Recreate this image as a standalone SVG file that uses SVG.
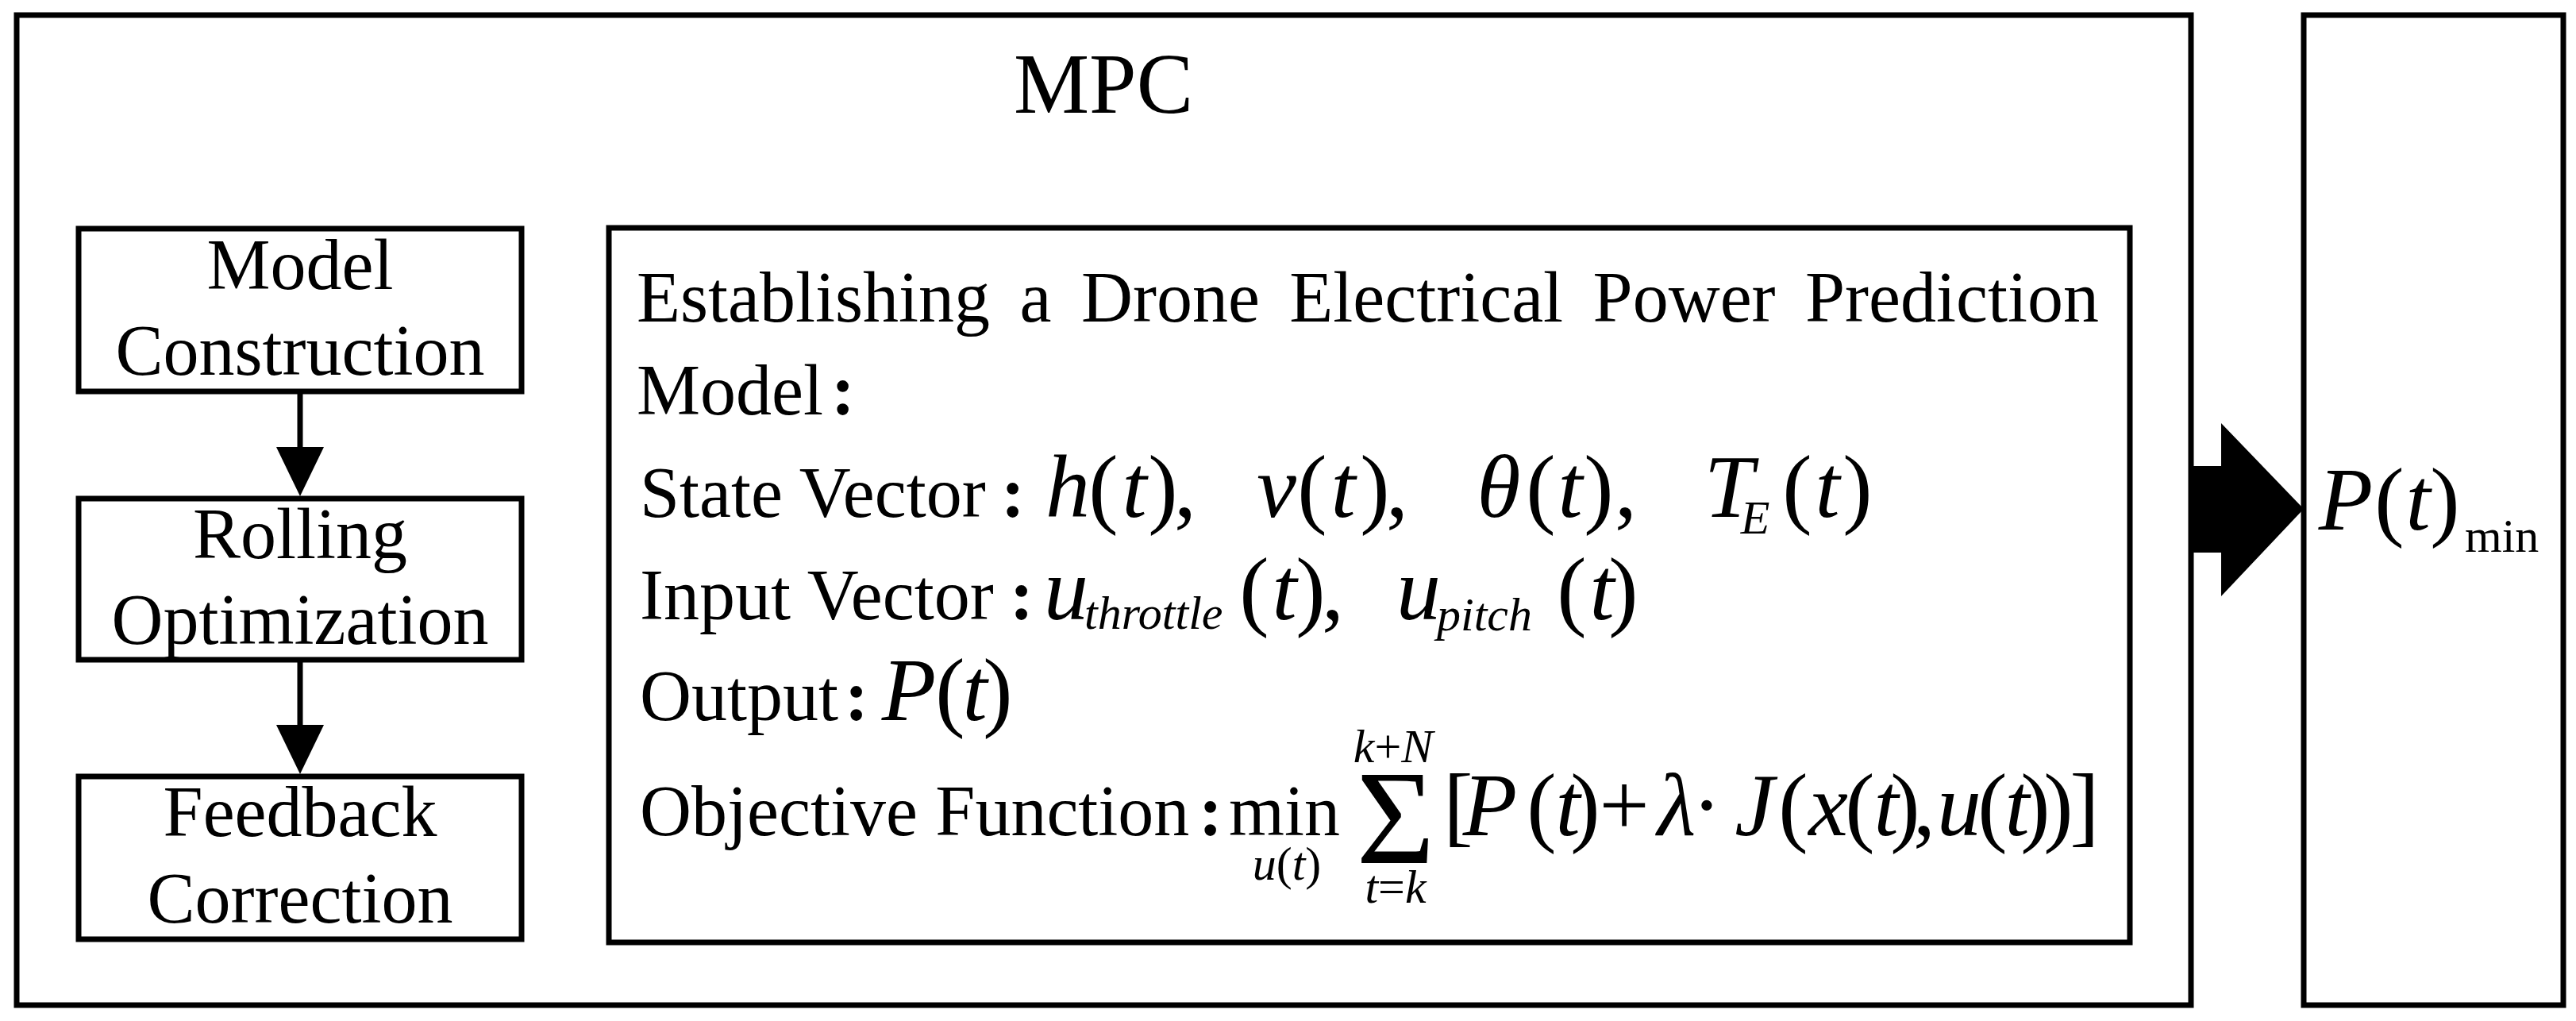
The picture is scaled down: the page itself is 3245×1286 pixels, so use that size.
<svg xmlns="http://www.w3.org/2000/svg" width="3245" height="1286" viewBox="0 0 3245 1286">
<style>
.box{fill:none;stroke:#000;stroke-width:7}
.t{font-family:"Liberation Serif","Noto Sans CJK SC",serif;font-size:90px;fill:#000}
.c{text-anchor:middle}
.k{font-family:"Liberation Serif",serif;font-size:90px;font-weight:bold;text-anchor:middle;fill:#000}
.m{font-family:"Liberation Serif",serif;font-size:112px;font-style:italic;text-anchor:middle;fill:#000}
.r{font-style:normal}
.s{font-family:"Liberation Serif",serif;font-size:60px;font-style:italic;fill:#000}
.ln{stroke:#000;stroke-width:7;fill:none}
</style>
<rect width="3245" height="1286" fill="#fff"/>
<g id="mpc">
<rect class="box" x="21" y="19" width="2739" height="1247"/>
<text class="t c" x="1390" y="142" style="font-size:107px">MPC</text>
</g>
<g id="model-construction">
<rect class="box" x="99" y="288" width="558" height="205"/>
<text class="t c" x="378" y="364">Model</text>
<text class="t c" x="378" y="472">Construction</text>
</g>
<g id="rolling-optimization">
<rect class="box" x="99" y="628" width="558" height="203"/>
<text class="t c" x="378" y="703">Rolling</text>
<text class="t c" x="378" y="811">Optimization</text>
</g>
<g id="feedback-correction">
<rect class="box" x="99" y="978" width="558" height="205"/>
<text class="t c" x="378" y="1053">Feedback</text>
<text class="t c" x="378" y="1162">Correction</text>
</g>
<g id="prediction-model">
<rect class="box" x="767" y="287" width="1916" height="900"/>
<text class="t" x="802" y="405" style="word-spacing:15px">Establishing a Drone Electrical Power Prediction</text>
<text class="t" x="802" y="522">Model</text>
<text class="k" x="1062" y="522">:</text>
<text class="t" x="806" y="651">State Vector</text>
<text class="k" x="1276" y="651">:</text>
<text class="m" y="651"><tspan x="1345">h</tspan><tspan class="r" x="1390">(</tspan><tspan x="1429">t</tspan><tspan class="r" x="1465">)</tspan><tspan class="r" x="1493">,</tspan><tspan x="1608">v</tspan><tspan class="r" x="1653">(</tspan><tspan x="1692">t</tspan><tspan class="r" x="1732">)</tspan><tspan class="r" x="1760">,</tspan><tspan x="1888">θ</tspan><tspan class="r" x="1941">(</tspan><tspan x="1978">t</tspan><tspan class="r" x="2014">)</tspan><tspan class="r" x="2048">,</tspan><tspan x="2178">T</tspan><tspan class="r" x="2264">(</tspan><tspan x="2302">t</tspan><tspan class="r" x="2340">)</tspan></text>
<text class="s" x="2211" y="672" text-anchor="middle">E</text>
<text class="t" x="806" y="780">Input Vector</text>
<text class="k" x="1287" y="780">:</text>
<text class="m" y="780"><tspan x="1343">u</tspan><tspan class="r" x="1580">(</tspan><tspan x="1618">t</tspan><tspan class="r" x="1651">)</tspan><tspan class="r" x="1679">,</tspan><tspan x="1787">u</tspan><tspan class="r" x="1980">(</tspan><tspan x="2018">t</tspan><tspan class="r" x="2045">)</tspan></text>
<text class="s" x="1366" y="792">throttle</text>
<text class="s" x="1810" y="794">pitch</text>
<text class="t" x="806" y="907">Output</text>
<text class="k" x="1079" y="907">:</text>
<text class="m" y="907"><tspan x="1145">P</tspan><tspan class="r" x="1197">(</tspan><tspan x="1228">t</tspan><tspan class="r" x="1257">)</tspan></text>
<text class="t" x="806" y="1052">Objective Function</text>
<text class="k" x="1525" y="1052">:</text>
<text class="t" x="1548" y="1052">min</text>
<text class="s" x="1621" y="1108" text-anchor="middle">u<tspan class="r">(</tspan>t<tspan class="r">)</tspan></text>
<text class="t c" x="1758" y="1087" style="font-size:170px">Σ</text>
<text class="s" x="1755" y="960" text-anchor="middle">k<tspan class="r">+</tspan>N</text>
<text class="s" x="1758" y="1137" text-anchor="middle">t<tspan class="r">=</tspan>k</text>
<text class="m" y="1052"><tspan class="r" x="1837">[</tspan><tspan x="1877">P</tspan><tspan class="r" x="1942">(</tspan><tspan x="1975">t</tspan><tspan class="r" x="1997">)</tspan><tspan class="r" x="2046">+</tspan><tspan x="2112">λ</tspan><tspan class="r" x="2150">·</tspan><tspan x="2210">J</tspan><tspan class="r" x="2259">(</tspan><tspan x="2303">x</tspan><tspan class="r" x="2343">(</tspan><tspan x="2376">t</tspan><tspan class="r" x="2400">)</tspan><tspan class="r" x="2424">,</tspan><tspan x="2468">u</tspan><tspan class="r" x="2510">(</tspan><tspan x="2541">t</tspan><tspan class="r" x="2564">)</tspan><tspan class="r" x="2593">)</tspan><tspan class="r" x="2626">]</tspan></text>
</g>
<g id="result">
<rect class="box" x="2902" y="19" width="327" height="1247"/>
<text class="m" y="667"><tspan x="2955">P</tspan><tspan class="r" x="3010">(</tspan><tspan x="3046">t</tspan><tspan class="r" x="3080">)</tspan></text>
<text class="t" x="3105" y="695" style="font-size:60px">min</text>
</g>
<g id="connectors">
<line class="ln" x1="378" y1="493" x2="378" y2="566"/>
<polygon points="348,563 408,563 378,625"/>
<line class="ln" x1="378" y1="831" x2="378" y2="916"/>
<polygon points="348,913 408,913 378,975"/>
<polygon points="2760,587 2798,587 2798,533 2902,641 2798,751 2798,696 2760,696"/>
</g>
</svg>
